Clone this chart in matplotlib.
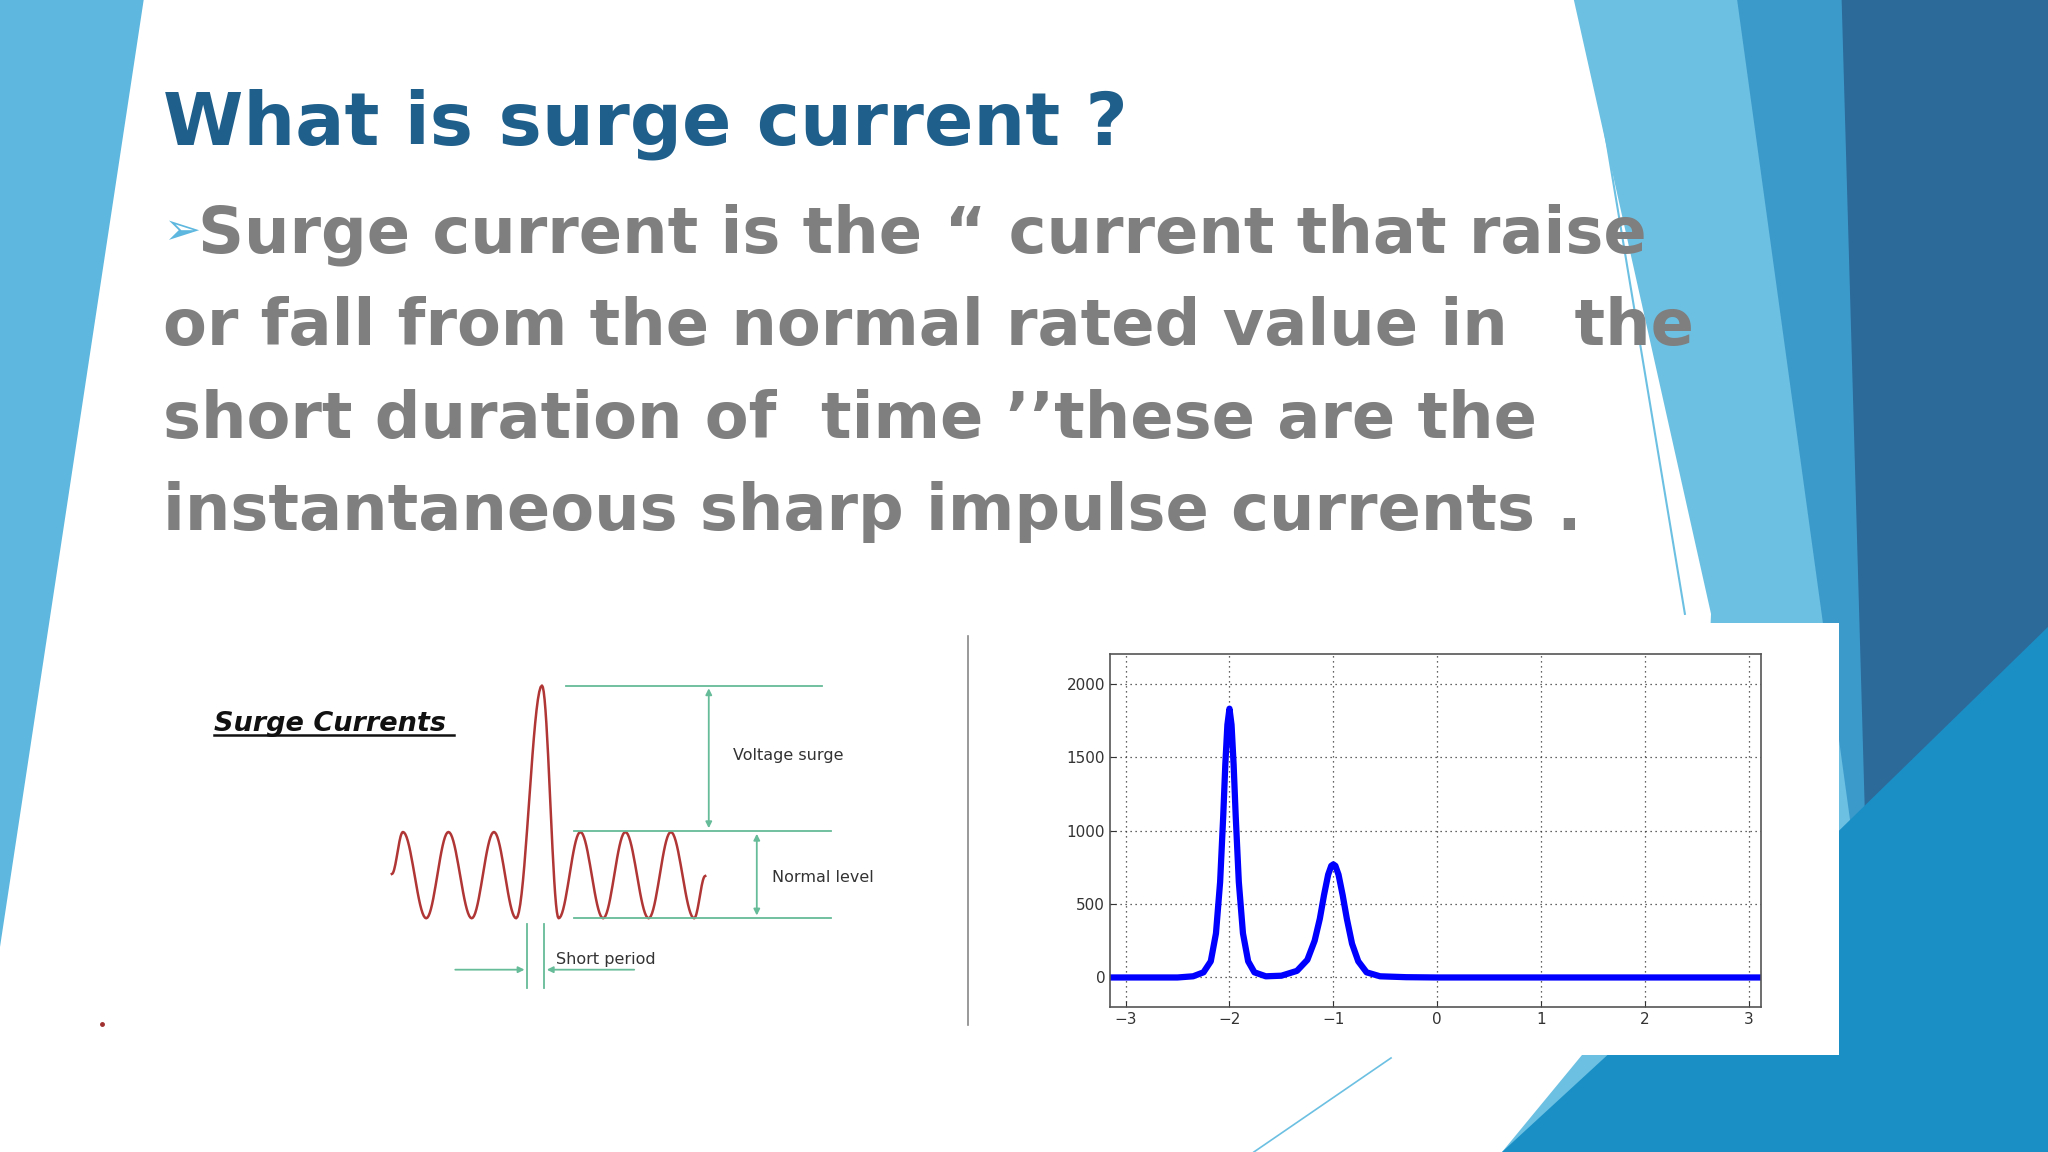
import matplotlib
matplotlib.use("Agg")
import matplotlib.pyplot as plt
import numpy as np
from matplotlib.patches import Polygon, Rectangle

# ---- data ----
title = "What is surge current ?"
body_lines = ["Surge current is the \u201c current that raise",
              "or fall from the normal rated value in   the",
              "short duration of  time \u2019\u2019these are the",
              "instantaneous sharp impulse currents ."]
wave_zx = [470, 492, 538, 582, 628, 672, 716, 767, 800, 843, 888, 932, 978, 1022, 1068, 1090]
wave_zy = [672, 548, 803, 548, 803, 548, 803, 115, 803, 548, 803, 548, 803, 548, 803, 678]
# pulse plot
px = [-3.15, -2.5, -2.35, -2.25, -2.18, -2.13, -2.09, -2.06, -2.04, -2.02, -2.0, -1.98, -1.96, -1.94, -1.91, -1.87,
      -1.82, -1.76, -1.65, -1.5, -1.35, -1.25, -1.18, -1.13, -1.09, -1.05, -1.02, -1.0, -0.98, -0.95, -0.91,
      -0.87, -0.82, -0.76, -0.68, -0.55, -0.3, 0, 3.12]
py = [0, 0, 8, 35, 110, 300, 650, 1100, 1450, 1720, 1830, 1720, 1450, 1100, 650, 300,
      110, 35, 8, 12, 45, 120, 250, 400, 560, 700, 760, 770, 760, 700, 560,
      400, 230, 110, 35, 8, 2, 0, 0]
xticks = [-3, -2, -1, 0, 1, 2, 3]
yticks = [0, 500, 1000, 1500, 2000]

fig = plt.figure(figsize=(20.48, 11.52), dpi=100)
bg = fig.add_axes([0, 0, 1, 1])
bg.set_xlim(0, 2048); bg.set_ylim(1152, 0); bg.axis("off")
s = 2048 / 1568
def P(pts): return [(x * s, y * s) for x, y in pts]
def Z(zx, zy): return ((300 + (zx - 470) * 0.387) * s, (637 + (zy - 548) * 0.259) * s)

bg.add_patch(Polygon(P([(0, 0), (110, 0), (0, 725)]), color="#5DB7DE", lw=0))
bg.add_patch(Polygon(P([(1205, 0), (1568, 0), (1568, 882), (1150, 882), (1300, 700), (1310, 470)]), color="#6CC0E2", lw=0))
bg.add_patch(Polygon(P([(1330, 0), (1568, 0), (1568, 882), (1400, 882), (1425, 690)]), color="#3C9ACB", lw=0))
bg.add_patch(Polygon(P([(1410, 0), (1568, 0), (1568, 560), (1430, 700)]), color="#2C6A9A", lw=0))
bg.add_patch(Polygon(P([(1568, 480), (1568, 882), (1150, 882), (1250, 790)]), color="#1A8FC6", lw=0))
bg.plot(*zip(*P([(1212, 0), (1290, 470)])), color="#6CC0E2", lw=1.5)
bg.plot(*zip(*P([(960, 882), (1065, 810)])), color="#6CC0E2", lw=1.2)
bg.add_patch(Rectangle((1032, 623), 807, 432, color="white", lw=0))

bg.text(163, 124, title, fontsize=52.5, fontweight="bold", color="#1F5F8B",
        family="DejaVu Sans", va="center", ha="left")
bg.text(163, 232, "\u27a2", fontsize=32, color="#5DB7DE", family="DejaVu Sans", va="center")
ys = [235, 327, 420, 512]
for i, (t, y) in enumerate(zip(body_lines, ys)):
    bg.text(198 if i == 0 else 163, y, t, fontsize=46, fontweight="bold", color="#7F7F7F",
            family="DejaVu Sans", va="center", ha="left")

# schematic
wx, wy = [], []
for i in range(len(wave_zx) - 1):
    t = np.linspace(0, 1, 20)
    f = (1 - np.cos(np.pi * t)) / 2
    x0, y0 = Z(wave_zx[i], wave_zy[i]); x1, y1 = Z(wave_zx[i + 1], wave_zy[i + 1])
    wx += list(x0 + (x1 - x0) * t)
    wy += list(y0 + (y1 - y0) * f)
bg.plot(wx, wy, color="#B03535", lw=1.8)
g = "#66BB99"
for (x0, x1, y) in [(815, 1322, 115), (830, 1338, 545), (830, 1338, 803)]:
    a, b = Z(x0, y); c, _ = Z(x1, y)
    bg.plot([a, c], [b, b], color=g, lw=1.3)
for (x, y0, y1) in [(1097, 115, 545), (1192, 545, 803)]:
    a, b = Z(x, y0); _, c = Z(x, y1)
    bg.annotate("", xy=(a, b), xytext=(a, c), arrowprops=dict(arrowstyle="<|-|>", color=g, lw=1.3, mutation_scale=9))
for x in [738, 771]:
    a, b = Z(x, 820); _, c = Z(x, 1008)
    bg.plot([a, a], [b, c], color=g, lw=1.3)
for (x0, x1) in [(590, 738), (955, 771)]:
    a, y = Z(x0, 955); c, _ = Z(x1, 955)
    bg.annotate("", xy=(c, y), xytext=(a, y), arrowprops=dict(arrowstyle="-|>", color=g, lw=1.3, mutation_scale=9))
for (x, y, t) in [(1145, 323, "Voltage surge"), (1222, 683, "Normal level"), (795, 925, "Short period")]:
    a, b = Z(x, y)
    bg.text(a, b, t, fontsize=11.5, color="#333333", va="center", ha="left")
a, b = Z(118, 228)
bg.text(a, b, "Surge Currents", fontsize=19.5, fontweight="bold", fontstyle="italic",
        color="#111111", va="center", ha="left", family="DejaVu Sans")
a2, b2 = Z(593, 262)
bg.plot([a, a2], [b2, b2], color="#111111", lw=1.8)
bg.plot([741 * s, 741 * s], [487 * s, 785 * s], color="#888888", lw=1.2)
bg.plot([78 * s], [784 * s], marker="o", ms=2.5, color="#A03030")

# pulse chart
ax = fig.add_axes([0.542, 0.126, 0.318, 0.306])
ax.plot(px, py, color="#0000FF", lw=4.5, solid_joinstyle="round")
ax.set_xlim(-3.15, 3.12); ax.set_ylim(-200, 2200)
ax.set_xticks(xticks); ax.set_yticks(yticks)
ax.set_xticklabels(["\u22123", "\u22122", "\u22121", "0", "1", "2", "3"])
ax.tick_params(labelsize=11, direction="in", length=4, colors="#333333")
ax.grid(True, linestyle=(0, (1, 3)), color="#333333", lw=0.9)
for sp in ax.spines.values():
    sp.set_color("#555555"); sp.set_linewidth(1.2)

fig.savefig("out.png", dpi=100)
